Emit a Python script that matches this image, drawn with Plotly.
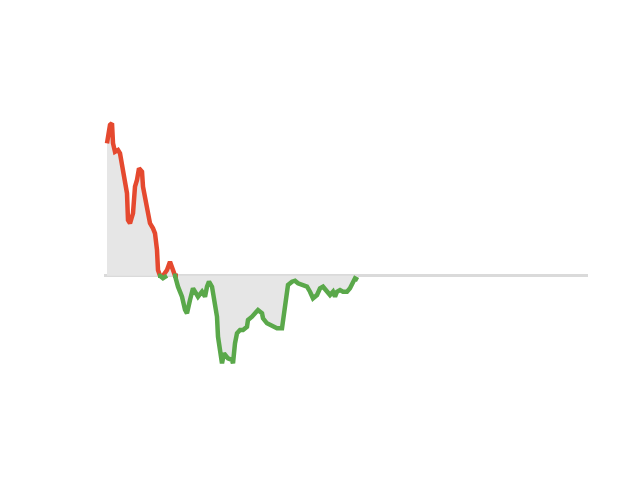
import plotly.graph_objs as go

# day offsets and value relative to baseline
days = [7, 10, 12, 13, 15, 18, 20, 22, 23, 27, 28, 30, 32, 33, 35, 37, 39, 42, 43, 47,
        50, 53, 55, 57, 58, 60, 63, 67, 70, 73, 75, 78, 82, 85, 87, 90, 93, 95, 98, 102,
        105, 107, 109, 112, 113, 115, 117, 118, 120, 122, 124, 127, 128, 132, 133, 135, 137, 140, 143, 147,
        148, 152, 155, 158, 162, 163, 167, 170, 173, 177, 182, 185, 188, 192, 195, 198, 202, 207, 210, 213,
        217, 220, 223, 227, 230, 233, 235, 237, 240, 243, 247, 250, 252, 255, 258]
values = [132.4, 150.7, 152.4, 132.4, 124, 125.7, 122.4, 109, 104, 82.4, 55.7, 52.4, 59, 62.4, 89, 95.7, 107.4, 104, 89, 65.7,
          52.4, 47.4, 42.4, 25.7, 5.7, 0, -2.6, 5.7, 14, 5.7, 0, -11, -21, -34, -37.6, -24.3, -12.6, -16, -21, -16,
          -21, -11, -6, -11, -17.6, -27.6, -41, -61, -77.6, -87.6, -77.6, -81, -82.6, -84.3, -87.6, -67.6, -57.6, -54.3, -54.3, -51,
          -44.3, -41, -37.6, -34.3, -37.6, -42.6, -47.6, -49.3, -51, -52.6, -52.6, -31, -9.3, -6, -5, -7.6, -9.3, -11, -16, -22.6,
          -19.3, -12.6, -11, -16, -19.3, -16, -21, -16, -14.3, -16, -16, -12.6, -7.6, -2.6, -4.3]


def split(vals, positive):
    # keep values on one side of zero, clamp neighbours to zero so the segments join
    out = []
    n = len(vals)
    for i, v in enumerate(vals):
        ok = v >= 0 if positive else v <= 0
        if ok:
            out.append(v)
            continue
        prev_ok = i > 0 and ((vals[i - 1] >= 0) if positive else (vals[i - 1] <= 0))
        next_ok = i < n - 1 and ((vals[i + 1] >= 0) if positive else (vals[i + 1] <= 0))
        out.append(0 if (prev_ok or next_ok) else None)
    return out


fill_trace = go.Scatter(x=days, y=values, mode='lines', fill='tozeroy',
                        fillcolor='#e6e6e6', line=dict(width=0), hoverinfo='skip')
up_trace = go.Scatter(x=days, y=split(values, True), mode='lines',
                      line=dict(color='#e5492f', width=4.5), hoverinfo='skip')
down_trace = go.Scatter(x=days, y=split(values, False), mode='lines',
                        line=dict(color='#5aa84a', width=4.5), hoverinfo='skip')

layout = go.Layout(
    width=642, height=484,
    margin=dict(l=96, r=62, t=32, b=48),
    paper_bgcolor='white', plot_bgcolor='white',
    showlegend=False,
    xaxis=dict(range=[4, 488], visible=False),
    yaxis=dict(range=[-168.3, 235.7], showgrid=False, showticklabels=False, ticks='',
               zeroline=True, zerolinecolor='#dadada', zerolinewidth=3),
)

fig = go.Figure(data=[fill_trace, up_trace, down_trace], layout=layout)
fig.write_html("out.html")
